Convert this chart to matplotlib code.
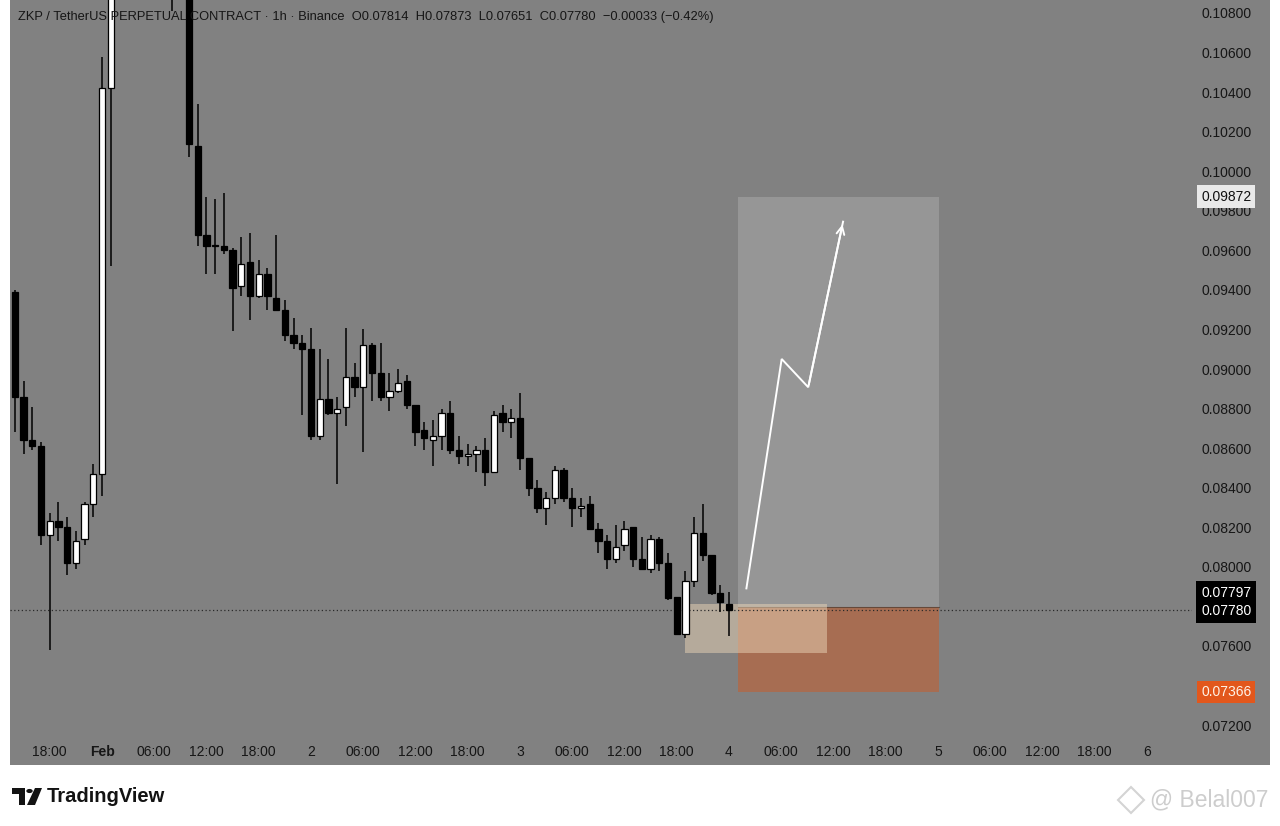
import matplotlib
matplotlib.use("Agg")
import matplotlib.pyplot as plt
import matplotlib.transforms as mtransforms
from matplotlib.patches import Rectangle, Circle, Polygon

# ---------------- data ----------------
# hours since Feb 1 00:00 (1h candles)
hours = list(range(-10, 73))
opens = [0.0939, 0.0886, 0.0864, 0.0861, 0.0816, 0.0823, 0.0820, 0.0802, 0.0814, 0.0832,
         0.0847, 0.1042, 0.1150, 0.1190, 0.1170, 0.1140, 0.1160, 0.1130, 0.1120, 0.1110,
         0.1100, 0.1013, 0.0968, 0.09625, 0.0962, 0.0960, 0.0942, 0.0954, 0.0937, 0.0948,
         0.0936, 0.0930, 0.0917, 0.0913, 0.0910, 0.0866, 0.0885, 0.0878, 0.0881, 0.0896,
         0.0891, 0.0912, 0.0898, 0.0886, 0.0889, 0.0894, 0.0882, 0.0869, 0.0864, 0.0866,
         0.0878, 0.0859, 0.0856, 0.0857, 0.0859, 0.0848, 0.0878, 0.0873, 0.0875, 0.0855,
         0.0840, 0.0830, 0.0835, 0.0849, 0.0835, 0.0830, 0.0832, 0.0819, 0.0813, 0.0804,
         0.0811, 0.0820, 0.0804, 0.0799, 0.0814, 0.0802, 0.0785, 0.0766, 0.0793, 0.0817,
         0.0806, 0.0787, 0.07814]
highs = [0.0940, 0.0894, 0.0881, 0.0863, 0.0827, 0.0833, 0.0825, 0.0818, 0.0833, 0.0852,
         0.1058, 0.1190, 0.1230, 0.1250, 0.1210, 0.1180, 0.1190, 0.1160, 0.1150, 0.1140,
         0.1120, 0.1034, 0.0987, 0.0986, 0.0989, 0.0961, 0.0967, 0.0969, 0.0955, 0.0951,
         0.0968, 0.0935, 0.0926, 0.0917, 0.0921, 0.0910, 0.0905, 0.0886, 0.0921, 0.0903,
         0.0920, 0.0913, 0.0913, 0.0898, 0.0900, 0.0897, 0.0882, 0.0873, 0.0874, 0.0880,
         0.0884, 0.0866, 0.0862, 0.0861, 0.0865, 0.0879, 0.0882, 0.0880, 0.0888, 0.0855,
         0.0844, 0.0838, 0.0851, 0.0850, 0.0840, 0.0835, 0.0836, 0.0822, 0.0816, 0.0821,
         0.0823, 0.0820, 0.0815, 0.0816, 0.0815, 0.0807, 0.0785, 0.0798, 0.0825, 0.0832,
         0.0806, 0.0791, 0.07873]
lows = [0.0868, 0.0857, 0.0859, 0.0811, 0.0758, 0.0813, 0.0796, 0.0799, 0.0811, 0.0825,
        0.0836, 0.0952, 0.1120, 0.1150, 0.1120, 0.1100, 0.1110, 0.1095, 0.1081, 0.1092,
        0.1007, 0.0962, 0.0948, 0.0948, 0.0958, 0.0919, 0.0937, 0.0925, 0.0936, 0.0930,
        0.0930, 0.0914, 0.0910, 0.0877, 0.0864, 0.0864, 0.0877, 0.0842, 0.0871, 0.0886,
        0.0858, 0.0884, 0.0884, 0.0879, 0.0888, 0.0880, 0.0861, 0.0859, 0.0851, 0.0859,
        0.0857, 0.0852, 0.0851, 0.0848, 0.0841, 0.0848, 0.0868, 0.0865, 0.0849, 0.0836,
        0.0827, 0.0821, 0.0832, 0.0833, 0.0820, 0.0825, 0.0819, 0.0807, 0.0799, 0.0802,
        0.0808, 0.0800, 0.0799, 0.0797, 0.0798, 0.0783, 0.0766, 0.0764, 0.0790, 0.0803,
        0.0786, 0.0777, 0.07651]
closes = [0.0886, 0.0864, 0.0861, 0.0816, 0.0823, 0.0820, 0.0802, 0.0813, 0.0832, 0.0847,
          0.1042, 0.1150, 0.1190, 0.1170, 0.1140, 0.1160, 0.1130, 0.1120, 0.1110, 0.1100,
          0.1014, 0.0968, 0.0962, 0.0962, 0.0960, 0.0941, 0.0953, 0.0937, 0.0948, 0.0937,
          0.0930, 0.0917, 0.0913, 0.0910, 0.0866, 0.0885, 0.0878, 0.0880, 0.0896, 0.0891,
          0.0912, 0.0898, 0.0886, 0.0889, 0.0893, 0.0882, 0.0868, 0.0865, 0.0866, 0.0878,
          0.0859, 0.0856, 0.0857, 0.0859, 0.0848, 0.0877, 0.0873, 0.0875, 0.0855, 0.0840,
          0.0830, 0.0835, 0.0849, 0.0835, 0.0830, 0.0831, 0.0819, 0.0813, 0.0804, 0.0810,
          0.0819, 0.0804, 0.0799, 0.0814, 0.0802, 0.0784, 0.0766, 0.0793, 0.0817, 0.0806,
          0.0787, 0.0782, 0.07780]

x_tick_hours = list(range(-6, 121, 6))
x_tick_labels = ['18:00', 'Feb', '06:00', '12:00', '18:00', '2', '06:00', '12:00', '18:00', '3',
                 '06:00', '12:00', '18:00', '4', '06:00', '12:00', '18:00', '5', '06:00', '12:00',
                 '18:00', '6']
y_ticks = [0.072, 0.074, 0.076, 0.078, 0.080, 0.082, 0.084, 0.086, 0.088, 0.090, 0.092,
           0.094, 0.096, 0.098, 0.100, 0.102, 0.104, 0.106, 0.108]

current_price = 0.07780
entry_price = 0.07797
target_price = 0.09872
stop_price = 0.07366
position_hours = [73.05, 96.1]
zone_hours = [66.95, 83.25]
zone_prices = [0.07565, 0.07810]
arrow_hours = [74.0, 78.05, 81.1, 85.1]
arrow_prices = [0.07891, 0.09051, 0.08908, 0.09745]

header = ("ZKP / TetherUS PERPETUAL CONTRACT · 1h · Binance  O0.07814  H0.07873  "
          "L0.07651  C0.07780  \u22120.00033 (\u22120.42%)")

# ---------------- style ----------------
W, H = 1280, 826
BG = '#818181'
FONT = ['Liberation Sans', 'DejaVu Sans']
plt.rcParams['font.family'] = FONT
TXT = '#161616'

fig = plt.figure(figsize=(W / 100, H / 100), dpi=100, facecolor='white')
fig.patches.append(Rectangle((10 / W, 61 / H), 1260 / W, 765 / H, transform=fig.transFigure,
                             facecolor=BG, edgecolor='none', zorder=-10))
ax = fig.add_axes([10 / W, 61 / H, 1182 / W, 765 / H])
ax.set_zorder(1)
ax.set_facecolor(BG)
for s in ax.spines.values():
    s.set_visible(False)

ax.set_xlim(-10.565, 125.17)
ax.set_ylim(0.069982, 0.108657)

# position tool
ax.add_patch(Rectangle((position_hours[0], entry_price), position_hours[1] - position_hours[0],
                       target_price - entry_price, facecolor='#969696', edgecolor='none', zorder=1))
ax.add_patch(Rectangle((position_hours[0], stop_price), position_hours[1] - position_hours[0],
                       entry_price - stop_price, facecolor='#a76d52', edgecolor='none', zorder=1))
ax.plot(position_hours, [entry_price, entry_price], color='#4a3a30', lw=0.8, alpha=0.7, zorder=1.5)
ax.add_patch(Rectangle((zone_hours[0], zone_prices[0]), zone_hours[1] - zone_hours[0],
                       zone_prices[1] - zone_prices[0], facecolor='#ead4b6', alpha=0.5,
                       edgecolor='none', zorder=2))

# current price dotted line
ax.axhline(current_price, color='#2a2a2a', lw=0.9, ls=(0, (1, 2)), zorder=2.5)

# candles
for t, o, h, l, c in zip(hours, opens, highs, lows, closes):
    up = c >= o
    ax.vlines(t, l, h, color='black', lw=1.1, zorder=3)
    body = max(abs(c - o), 0.00003)
    ax.bar(t, body, bottom=min(o, c), width=0.72, color='white' if up else 'black',
           edgecolor='black', linewidth=0.9, zorder=4)

# arrow
ax.plot(arrow_hours, arrow_prices, color='white', lw=1.4, zorder=5, solid_joinstyle='miter')
ax.annotate('', xy=(arrow_hours[-1], arrow_prices[-1]), xytext=(arrow_hours[-2], arrow_prices[-2]),
            arrowprops=dict(arrowstyle='->', color='white', lw=1.4, mutation_scale=14), zorder=5)

# x labels (inside the panel)
ax.set_xticks([])
xt = ax.get_xaxis_transform()
for t, lab in zip(x_tick_hours, x_tick_labels):
    ax.text(t, 13 / 765, lab, transform=xt, ha='center', va='center', fontsize=10,
            color=TXT, fontweight='bold' if lab == 'Feb' else 'normal')

# y labels on the right
ax.yaxis.tick_right()
ax.set_yticks(y_ticks)
ax.set_yticklabels([f'{v:.5f}' for v in y_ticks])
ax.tick_params(axis='y', length=0, pad=6.5, labelsize=10, labelcolor=TXT)

# price tags
yt = ax.get_yaxis_transform()
tx = 1 + 9 / 1182
ax.text(tx, target_price, f'{target_price:.5f}', transform=yt, ha='left', va='center',
        fontsize=10, color='#111111', zorder=10, clip_on=False,
        bbox=dict(boxstyle='square,pad=0.3', facecolor='#e9e9e9', edgecolor='none'))
ax.text(tx, stop_price, f'{stop_price:.5f}', transform=yt, ha='left', va='center',
        fontsize=10, color='#fff3e8', zorder=10, clip_on=False,
        bbox=dict(boxstyle='square,pad=0.3', facecolor='#e2571c', edgecolor='none'))
off = mtransforms.offset_copy(yt, fig=fig, x=0, y=8.5, units='dots')
ax.text(tx, current_price, f'{entry_price:.5f}\n{current_price:.5f}', transform=off,
        ha='left', va='center', fontsize=10, color='white', zorder=10, clip_on=False,
        linespacing=1.35,
        bbox=dict(boxstyle='square,pad=0.35', facecolor='black', edgecolor='none'))

# header
fig.text(18 / W, 1 - 17 / H, header, ha='left', va='center', fontsize=9.3, color=TXT, zorder=5)

# footer: TradingView logo
def px(x, y):
    return (x / W, 1 - y / H)

fig.patches.append(Polygon([px(12, 788), px(25, 788), px(25, 805), px(19, 805), px(19, 794),
                            px(12, 794)], closed=True, transform=fig.transFigure,
                           facecolor='#131313', edgecolor='none'))
fig.patches.append(Circle(px(29.5, 791), 3.2 / W, transform=fig.transFigure,
                          facecolor='#131313', edgecolor='none'))
fig.patches.append(Polygon([px(35, 788), px(42, 788), px(35, 805), px(27, 805)], closed=True,
                           transform=fig.transFigure, facecolor='#131313', edgecolor='none'))
fig.text(47 / W, 1 - 796 / H, 'TradingView', ha='left', va='center', fontsize=14.5,
         color='#131313', fontweight='bold')

# watermark
fig.patches.append(Polygon([px(1131, 787), px(1144, 800), px(1131, 813), px(1118, 800)],
                           closed=True, transform=fig.transFigure, facecolor='none',
                           edgecolor='#d4d4d4', linewidth=1.5))
fig.text(1150 / W, 1 - 800 / H, '@ Belal007', ha='left', va='center', fontsize=16.5,
         color='#cdcdcd')

fig.savefig('out.png', dpi=100, facecolor='white')
